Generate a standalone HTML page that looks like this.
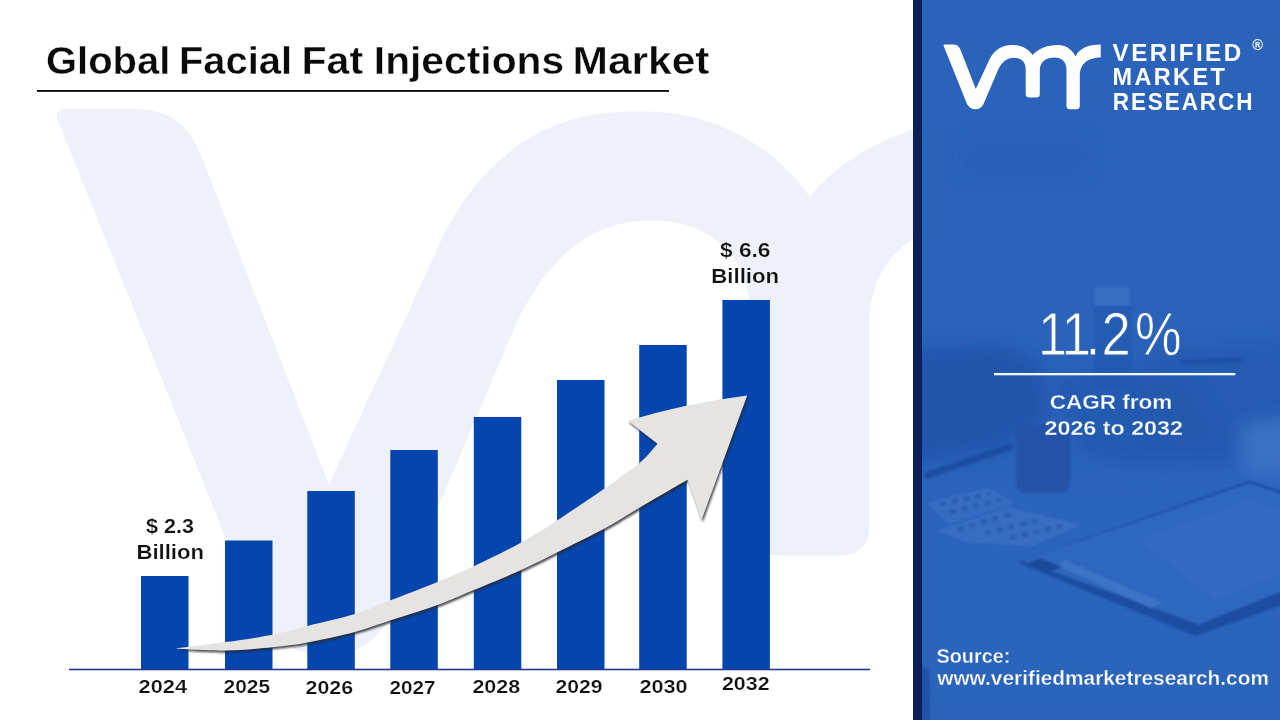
<!DOCTYPE html>
<html lang="en">
<head>
<meta charset="utf-8">
<title>Global Facial Fat Injections Market</title>
<style>
html,body{margin:0;padding:0;}
body{width:1280px;height:720px;overflow:hidden;background:#fff;font-family:"Liberation Sans",sans-serif;position:relative;}
#gfx{position:absolute;left:0;top:0;width:1280px;height:720px;}
</style>
</head>
<body>
<svg id="gfx" viewBox="0 0 1280 720" width="1280" height="720">
  <defs>
    <filter id="blur8" x="-20%" y="-20%" width="140%" height="140%"><feGaussianBlur stdDeviation="8"/></filter>
    <filter id="blur3" x="-20%" y="-20%" width="140%" height="140%"><feGaussianBlur stdDeviation="1.3"/></filter>
    <filter id="ash" x="-10%" y="-10%" width="120%" height="120%"><feGaussianBlur stdDeviation="1.2"/></filter>
    <clipPath id="leftclip"><rect x="0" y="0" width="913" height="720"/></clipPath>
    <clipPath id="panelclip"><rect x="922" y="0" width="358" height="720"/></clipPath>
  </defs>
  <!-- watermark -->
  <g id="wm" clip-path="url(#leftclip)" fill="#eef1f9">
    <path transform="translate(58,109) scale(8.44) translate(-943.7,-44.6)" d="M944.6 44.6 L953 44.6 Q958.5 44.6 960.6 50 L975.8 89.1 L988.5 61.5 C991.5 54.5 998 45.2 1011 44.9 L1013 44.9 C1021 44.8 1028.5 48.8 1032.8 55 C1037.5 49 1047 45 1058 45 C1066 45 1072 49.5 1075.6 56.3 C1079 49 1088 44.6 1100.7 44.6 L1100.7 57.5 C1090 57.5 1079.8 62 1079.8 76 L1079.8 105.8 Q1079.8 109.3 1076.3 109.3 L1070 109.3 Q1066.5 109.3 1066.5 105.8 L1066.5 70.2 C1066.5 62 1062 57.5 1054.5 57.5 C1046 57.5 1039.8 62 1039.8 70.2 L1039.8 94 Q1039.8 97.5 1036.3 97.5 L1029.2 97.5 Q1025.7 97.5 1025.7 94 L1025.7 69 C1025.7 62 1021 57.8 1014 57.8 C1006 57.8 1001.5 63 998 70 L983.5 104 Q981 109.3 975.5 109.3 Q970 109.3 967 104 L943.7 46 Q943.2 44.6 944.6 44.6 Z"/>
  </g>
  <!-- title underline -->
  <rect x="37" y="90" width="632" height="1.9" fill="#111"/>
  <!-- bars -->
  <g id="bars" fill="#0446ae">
    <rect x="141" y="576" width="47.5" height="94"/>
    <rect x="225" y="540.5" width="47.5" height="129.5"/>
    <rect x="307.3" y="491" width="47.5" height="179"/>
    <rect x="390.3" y="450" width="47.5" height="220"/>
    <rect x="473.8" y="417" width="47.5" height="253"/>
    <rect x="557" y="380" width="47.5" height="290"/>
    <rect x="639.2" y="345" width="47.5" height="325"/>
    <rect x="722.4" y="300" width="47.5" height="370"/>
  </g>
  <rect x="69" y="668.7" width="801" height="1.6" fill="#26398f"/>
  <!-- arrow -->
  <g id="arrow">
    <path id="arrsh" filter="url(#ash)" fill="#2a2a33" opacity="0.85" transform="translate(1.2,2)" d="M176.7 648.4 C184.8 647.4 209.2 644.4 225.1 642.1 C241.0 639.8 258.7 637.5 272.4 634.8 C286.1 632.1 293.6 629.4 307.4 625.9 C321.1 622.4 341.1 618.2 354.9 614.0 C368.7 609.8 376.2 605.8 390.0 600.5 C403.8 595.2 423.5 587.7 437.5 582.0 C451.5 576.3 459.8 572.8 473.8 566.2 C487.7 559.7 507.4 550.1 521.2 542.5 C535.1 534.9 543.2 529.5 557.0 520.5 C570.8 511.5 590.4 498.4 604.2 488.8 C618.1 479.1 631.1 470.0 640.0 462.5 C648.9 455.0 654.6 446.8 657.5 443.7 L627.7 420.8 Q687 403 747.2 395.5 L701.6 519.9 L687.5 479.8 C679.6 484.4 653.9 499.3 640.0 507.5 C626.1 515.7 618.1 521.2 604.2 528.8 C590.4 536.2 570.8 545.6 557.0 552.5 C543.2 559.4 535.1 563.8 521.2 570.0 C507.4 576.2 487.7 584.2 473.8 590.0 C459.8 595.8 451.5 599.9 437.5 605.0 C423.5 610.1 403.8 616.0 390.0 620.5 C376.2 625.0 368.7 628.2 354.9 631.9 C341.1 635.6 321.1 639.9 307.4 642.5 C293.6 645.1 286.1 645.9 272.4 647.3 C258.7 648.6 241.0 650.4 225.1 650.6 C209.2 650.9 184.8 649.1 176.7 648.8 Z"/>
    <path fill="#e6e3e3" d="M176.7 648.4 C184.8 647.4 209.2 644.4 225.1 642.1 C241.0 639.8 258.7 637.5 272.4 634.8 C286.1 632.1 293.6 629.4 307.4 625.9 C321.1 622.4 341.1 618.2 354.9 614.0 C368.7 609.8 376.2 605.8 390.0 600.5 C403.8 595.2 423.5 587.7 437.5 582.0 C451.5 576.3 459.8 572.8 473.8 566.2 C487.7 559.7 507.4 550.1 521.2 542.5 C535.1 534.9 543.2 529.5 557.0 520.5 C570.8 511.5 590.4 498.4 604.2 488.8 C618.1 479.1 631.1 470.0 640.0 462.5 C648.9 455.0 654.6 446.8 657.5 443.7 L627.7 420.8 Q687 403 747.2 395.5 L701.6 519.9 L687.5 479.8 C679.6 484.4 653.9 499.3 640.0 507.5 C626.1 515.7 618.1 521.2 604.2 528.8 C590.4 536.2 570.8 545.6 557.0 552.5 C543.2 559.4 535.1 563.8 521.2 570.0 C507.4 576.2 487.7 584.2 473.8 590.0 C459.8 595.8 451.5 599.9 437.5 605.0 C423.5 610.1 403.8 616.0 390.0 620.5 C376.2 625.0 368.7 628.2 354.9 631.9 C341.1 635.6 321.1 639.9 307.4 642.5 C293.6 645.1 286.1 645.9 272.4 647.3 C258.7 648.6 241.0 650.4 225.1 650.6 C209.2 650.9 184.8 649.1 176.7 648.8 Z"/>
  </g>
  <!-- right panel -->
  <rect x="913" y="0" width="10" height="720" fill="#0e1f57"/>
  <rect x="922" y="0" width="358" height="720" fill="#2b63ba"/>
  <g id="photo" clip-path="url(#panelclip)">
    <g filter="url(#blur8)">
      <rect x="960" y="140" width="130" height="34" fill="#265db4" opacity="0.6"/>
      <path d="M900 350 L1000 345 L1040 360 L1050 420 L1000 450 L900 465 Z" fill="#1f53a8" opacity="0.85"/>
      <path d="M1050 380 L1100 368 L1190 372 L1235 440 L1230 465 L1110 462 L1080 450 Z" fill="#2357ac" opacity="0.8"/>
      <path d="M1140 350 L1300 340 L1300 420 L1200 450 L1150 440 Z" fill="#2559ae" opacity="0.7"/>
      <path d="M1240 425 L1300 415 L1300 490 L1245 475 Z" fill="#3d74c6" opacity="0.85"/>
      <path d="M922 480 L1100 480 L1290 470 L1290 720 L922 720 Z" fill="#2d65bb" opacity="0.5"/>
    </g>
    <g filter="url(#blur3)">
      <rect x="1094" y="286" width="36" height="20" rx="4" fill="#3c73c5" opacity="0.7"/>
      <rect x="1094" y="306" width="38" height="80" rx="4" fill="#2458ad" opacity="0.75"/>
      <path d="M1183 362 L1240 360" stroke="#1f4fa3" stroke-width="5" stroke-linecap="round" fill="none" opacity="0.9"/>
      <rect x="1016" y="425" width="54" height="68" rx="9" fill="#2352a5" opacity="0.9"/>
      <path d="M928 475 L1010 447" stroke="#1e4ea2" stroke-width="7" stroke-linecap="round" fill="none"/>
      <path d="M926 502.7 L987 488 L1016 502.7 L949 524.6 Z" fill="#3a70c2" opacity="0.8"/>
      <path d="M937.5 530.4 L1007.5 507 L1083 524.6 L1031 546.5 L964 542 Z" fill="#3a70c2" opacity="0.85"/>
      <path d="M940 504 L990 494 M950 512 L1000 500 M958 530 L1010 514 M985 533 L1040 520 M1010 538 L1062 526" stroke="#2759ae" stroke-width="4.5" stroke-dasharray="6 6" fill="none" opacity="0.8"/>
      <path d="M1017.7 562.5 L1249.6 480.8 L1290 494 L1290 602 L1195.7 636 Z" fill="#1c4da1"/>
      <path d="M1023 560.5 L1249.5 483.3 L1290 497 L1290 588 L1199 624.5 Z" fill="#2f68be"/>
      <path d="M1140 540 L1250 500 L1290 512 L1290 570 L1215 600 Z" fill="#336cc1" opacity="0.7"/>
      <path d="M1057 565 L1066 560.5 L1162 603 L1151 608 Z" fill="#4177c8" opacity="0.85"/>
      <path d="M1028 563 L1040 558 L1062 567 L1050 572 Z" fill="#1a489b"/>
      <path d="M915 662 L929 670 L930 730 L915 730 Z" fill="#1d4da2" opacity="0.85"/>
    </g>
  </g>
  <!-- logo mark -->
  <path id="logo" fill="#fff" d="M944.6 44.6 L953 44.6 Q958.5 44.6 960.6 50 L975.8 89.1 L988.5 61.5 C991.5 54.5 998 45.2 1011 44.9 L1013 44.9 C1021 44.8 1028.5 48.8 1032.8 55 C1037.5 49 1047 45 1058 45 C1066 45 1072 49.5 1075.6 56.3 C1079 49 1088 44.6 1100.7 44.6 L1100.7 57.5 C1090 57.5 1079.8 62 1079.8 76 L1079.8 105.8 Q1079.8 109.3 1076.3 109.3 L1070 109.3 Q1066.5 109.3 1066.5 105.8 L1066.5 70.2 C1066.5 62 1062 57.5 1054.5 57.5 C1046 57.5 1039.8 62 1039.8 70.2 L1039.8 94 Q1039.8 97.5 1036.3 97.5 L1029.2 97.5 Q1025.7 97.5 1025.7 94 L1025.7 69 C1025.7 62 1021 57.8 1014 57.8 C1006 57.8 1001.5 63 998 70 L983.5 104 Q981 109.3 975.5 109.3 Q970 109.3 967 104 L943.7 46 Q943.2 44.6 944.6 44.6 Z"/>
  <rect x="994" y="373" width="241.3" height="2.3" fill="#f1f8ff"/>

  <g id="txt" font-family="'Liberation Sans', sans-serif" font-weight="bold">
    <text id="title" y="74.1" font-size="38.8" fill="#0a0a0a" stroke="#fff" stroke-width="0.4" xml:space="preserve"><tspan x="46" textLength="135.5" lengthAdjust="spacingAndGlyphs">Global </tspan><tspan x="179" textLength="124.2" lengthAdjust="spacingAndGlyphs">Facial </tspan><tspan x="301.5" textLength="73" lengthAdjust="spacingAndGlyphs">Fat </tspan><tspan x="373.8" textLength="201.7" lengthAdjust="spacingAndGlyphs">Injections </tspan><tspan x="572.5" textLength="137" lengthAdjust="spacingAndGlyphs">Market</tspan></text>
    <g font-size="17.8" fill="#111" stroke="#fff" stroke-width="0.2">
      <text id="y2024" x="138.6" y="693" textLength="48.5" lengthAdjust="spacingAndGlyphs">2024</text>
      <text id="y2025" x="223.6" y="692.5" textLength="46.5" lengthAdjust="spacingAndGlyphs">2025</text>
      <text id="y2026" x="305.6" y="693.75" textLength="47.5" lengthAdjust="spacingAndGlyphs">2026</text>
      <text id="y2027" x="389.4" y="693.75" textLength="46" lengthAdjust="spacingAndGlyphs">2027</text>
      <text id="y2028" x="472.4" y="693" textLength="47.8" lengthAdjust="spacingAndGlyphs">2028</text>
      <text id="y2029" x="555.6" y="693" textLength="47" lengthAdjust="spacingAndGlyphs">2029</text>
      <text id="y2030" x="639.4" y="693" textLength="48.2" lengthAdjust="spacingAndGlyphs">2030</text>
      <text id="y2032" x="721.9" y="690" textLength="47.7" lengthAdjust="spacingAndGlyphs">2032</text>
    </g>
    <g font-size="21" fill="#111" stroke="#f7f8fc" stroke-width="0.22">
      <text id="v1a" x="146" y="532.8" textLength="48" lengthAdjust="spacingAndGlyphs">$ 2.3</text>
      <text id="v1b" x="136.5" y="558.7" textLength="67.5" lengthAdjust="spacingAndGlyphs">Billion</text>
      <text id="v2a" x="720" y="256.7" textLength="50.5" lengthAdjust="spacingAndGlyphs">$ 6.6</text>
      <text id="v2b" x="711.3" y="282.8" textLength="67.8" lengthAdjust="spacingAndGlyphs">Billion</text>
    </g>
    <g font-size="24" fill="#fff">
      <text id="lt1" x="1112.6" y="61.4" textLength="131" letter-spacing="2.4" lengthAdjust="spacingAndGlyphs">VERIFIED</text>
      <text id="lt2" x="1112.6" y="85.3" textLength="114.5" letter-spacing="2.4" lengthAdjust="spacingAndGlyphs">MARKET</text>
      <text id="lt3" x="1112.8" y="109.5" textLength="141.5" letter-spacing="2" lengthAdjust="spacingAndGlyphs">RESEARCH</text>
      <text id="reg" x="1252.2" y="49.6" font-size="14.5">®</text>
    </g>
    <text id="big" transform="scale(0.86 1)" x="1207.0 1234.5 1262.3 1280.9 1319.9" y="354.9" font-size="61" font-weight="normal" fill="#fff" stroke="#2a5fb5" stroke-width="0.8">11.2%</text>
    <g fill="#fff" stroke="#2a60b7" stroke-width="0.3">
      <text id="c1" x="1049.8" y="408.75" font-size="19.6" textLength="122.5" lengthAdjust="spacingAndGlyphs">CAGR from</text>
      <text id="c2" x="1044.5" y="434.6" font-size="19.6" textLength="138.4" lengthAdjust="spacingAndGlyphs">2026 to 2032</text>
      <text id="s1" x="936.5" y="663.1" font-size="19.4" textLength="73.8" lengthAdjust="spacingAndGlyphs">Source:</text>
      <text id="s2" x="937.2" y="684.75" font-size="19.4" textLength="331.8" lengthAdjust="spacingAndGlyphs">www.verifiedmarketresearch.com</text>
    </g>
  </g>
</svg>
</body>
</html>
